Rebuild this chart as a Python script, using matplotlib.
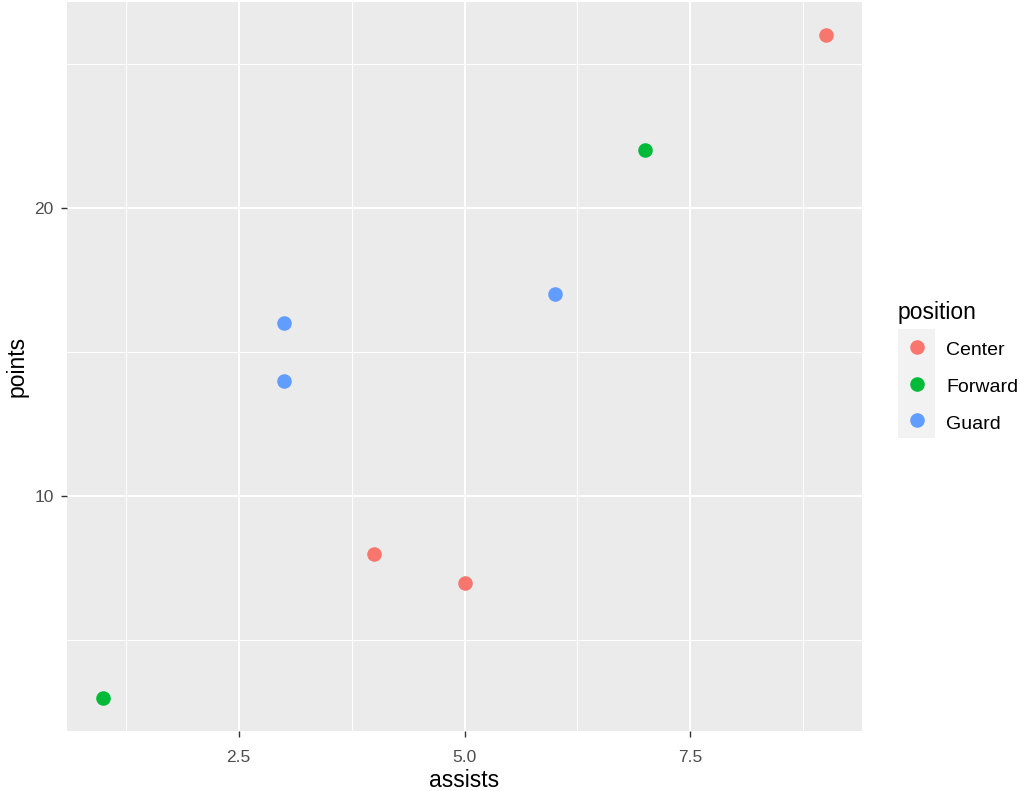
import matplotlib
matplotlib.use("Agg")
import matplotlib.pyplot as plt

plt.rcParams['font.family'] = ['Liberation Sans', 'DejaVu Sans']

positions = ["Center", "Forward", "Guard"]
colors = ["#F8766D", "#00BA38", "#619CFF"]
assists = {"Center": [9, 4, 5], "Forward": [7, 1], "Guard": [6, 3, 3]}
points = {"Center": [26, 8, 7], "Forward": [22, 3], "Guard": [17, 16, 14]}

W, H = 1024, 791
fig = plt.figure(figsize=(W / 100, H / 100), dpi=100)
ax = fig.add_axes([67 / W, 1 - 731 / H, (862 - 67) / W, (731 - 2) / H])
ax.set_facecolor("#EBEBEB")

for pos, col in zip(positions, colors):
    ax.scatter(assists[pos], points[pos], s=110, color=col, linewidths=0, zorder=3)

ax.set_xlim(0.6, 9.4)
ax.set_ylim(1.85, 27.15)
ax.set_xticks([2.5, 5.0, 7.5])
ax.set_xticklabels(["2.5", "5.0", "7.5"])
ax.set_yticks([10, 20])
ax.set_xticks([1.25, 3.75, 6.25, 8.75], minor=True)
ax.set_yticks([5, 15, 25], minor=True)
ax.grid(which="major", color="white", linewidth=1.4)
ax.grid(which="minor", color="white", linewidth=0.7)
ax.set_axisbelow(True)
for s in ax.spines.values():
    s.set_visible(False)
ax.tick_params(which="major", length=4.5, width=1, color="#333333",
               labelcolor="#4D4D4D", labelsize=12.5)
ax.tick_params(axis="x", pad=9)
ax.tick_params(axis="y", pad=5)
ax.tick_params(which="minor", length=0)
ax.set_xlabel("assists", fontsize=16.5, color="black", labelpad=3)
ax.set_ylabel("points", fontsize=16.5, color="black", labelpad=4)

# legend
lax = fig.add_axes([898 / W, 1 - 438 / H, (935 - 898) / W, (438 - 329) / H])
lax.set_facecolor("#F2F2F2")
lax.set_xlim(0, 1)
lax.set_ylim(0, 3)
for i, (pos, col) in enumerate(zip(positions, colors)):
    y = 2.5 - i
    lax.scatter([0.5], [y], s=110, color=col, linewidths=0)
    fig.text(946 / W, 1 - (351 + 37 * i) / H, pos, fontsize=14, va="center", ha="left")
lax.set_xticks([])
lax.set_yticks([])
for s in lax.spines.values():
    s.set_visible(False)
fig.text(898 / W, 1 - 312 / H, "position", fontsize=16.5, va="center", ha="left")

fig.savefig("out.png", dpi=100)
